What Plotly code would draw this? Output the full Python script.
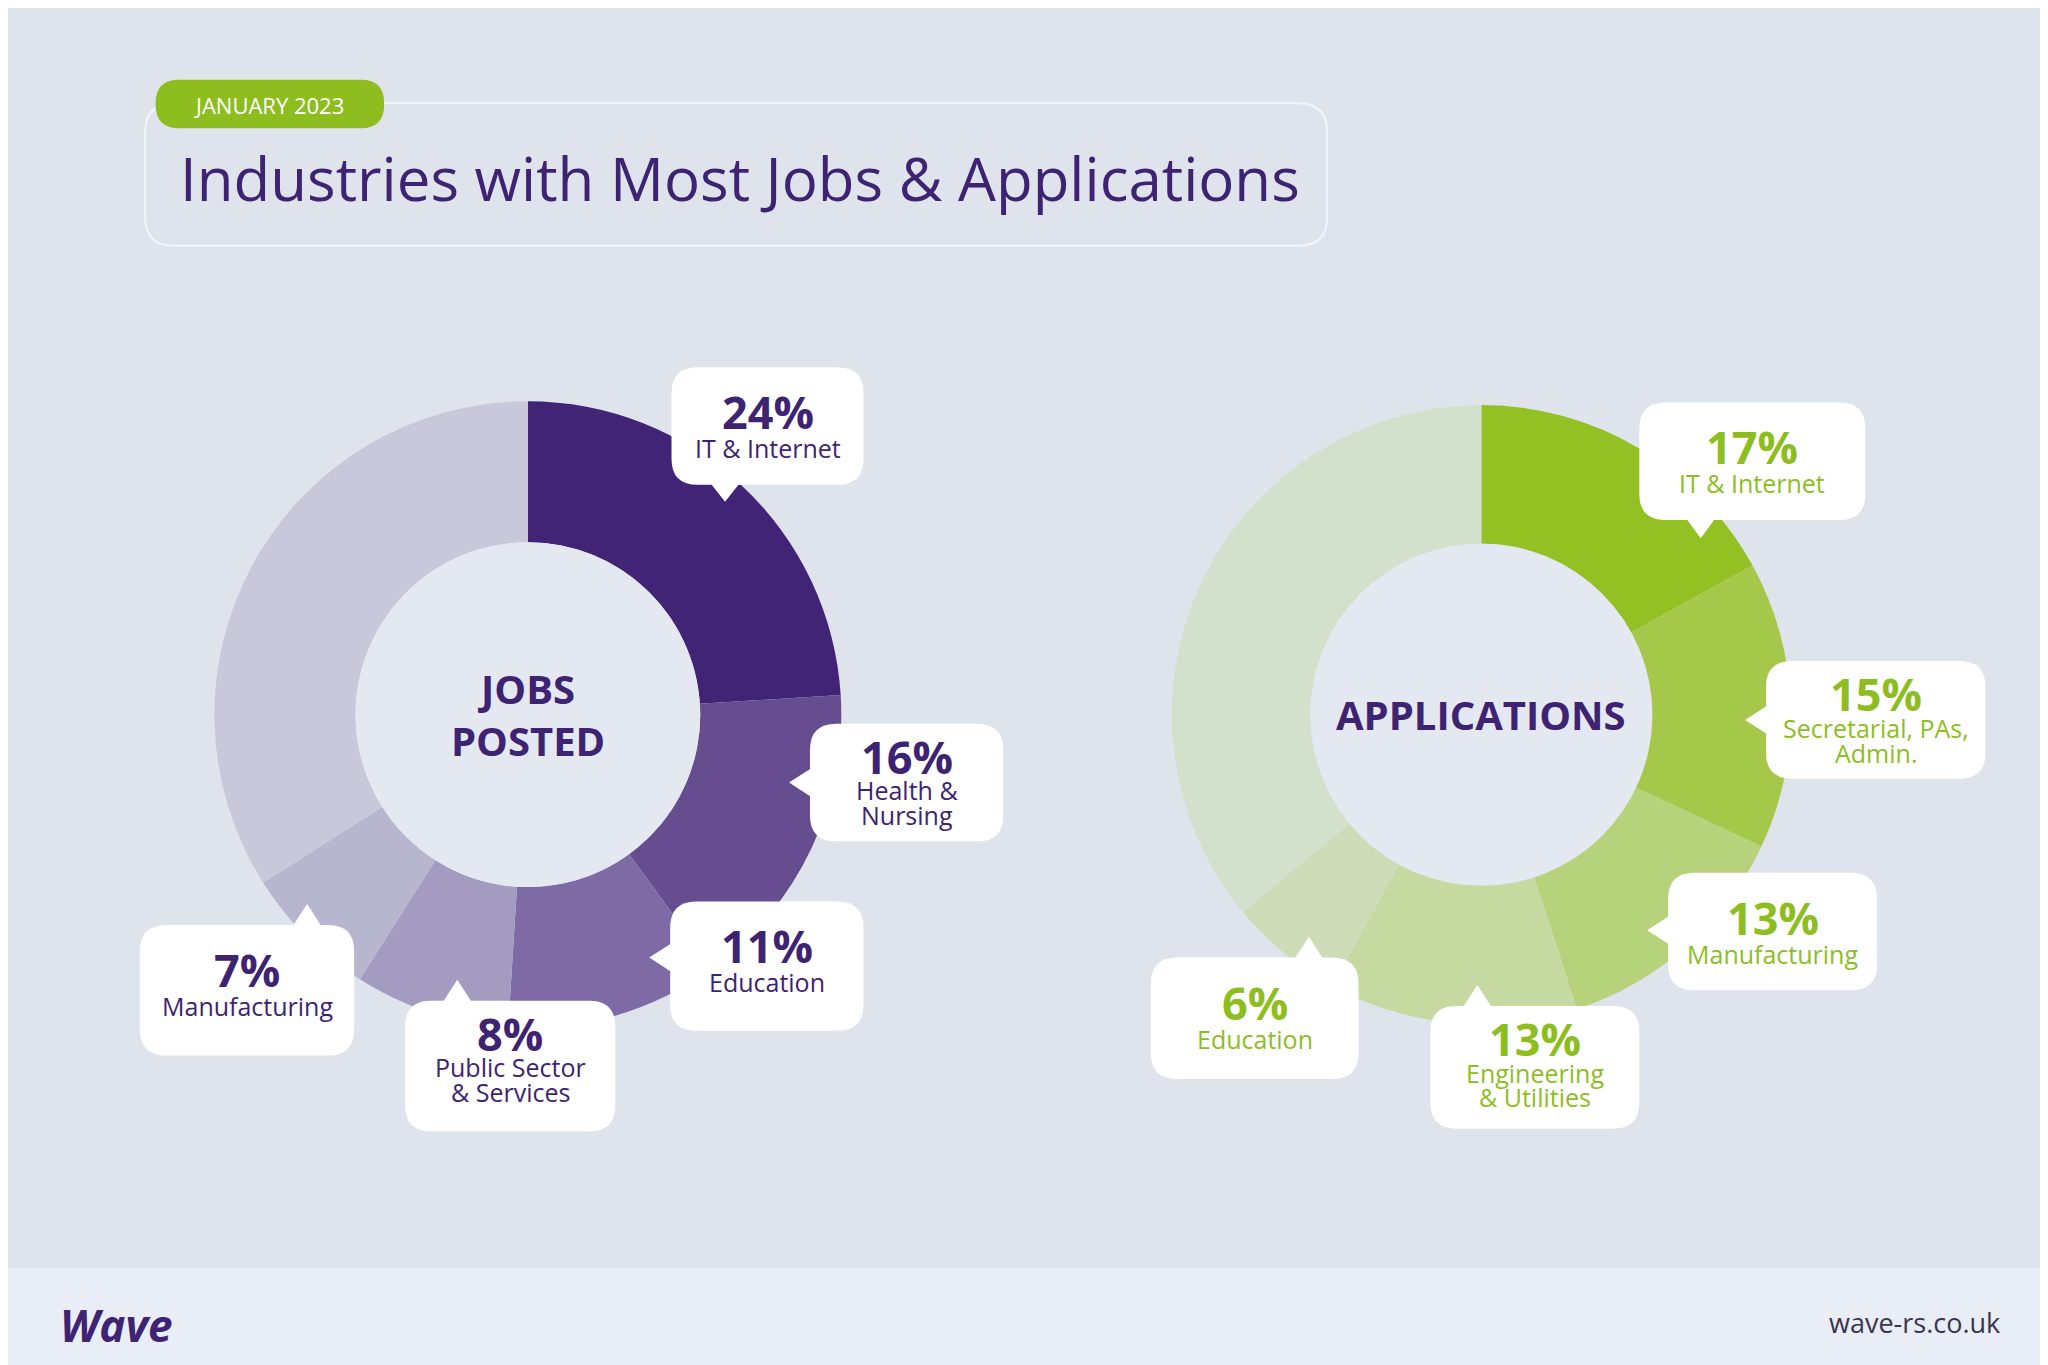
import plotly.graph_objects as go

W, H = 2048, 1365

jobs_labels = ["IT & Internet", "Health & Nursing", "Education", "Public Sector & Services", "Manufacturing", "Other"]
jobs_values = [24, 16, 11, 8, 7, 34]
jobs_colors = ["#412476", "#654d8f", "#7e6ba6", "#a39cc0", "#b8b5cf", "#c8c8da"]

app_labels = ["IT & Internet", "Secretarial, PAs, Admin.", "Manufacturing", "Engineering & Utilities", "Education", "Other"]
app_values = [17, 15, 13, 13, 6, 36]
app_colors = ["#93c022", "#a6c84a", "#b6d27a", "#c5d9a0", "#cddcb6", "#d3e0cb"]

PURPLE = "#3d2372"
GREEN = "#8dbd1f"
FONT = "Open Sans"

def px(x): return x / 1568.0
def py(y): return 1 - y / 1045.0

fig = go.Figure()

def donut(labels, values, colors, cx, cy, r):
    fig.add_trace(go.Pie(
        labels=labels, values=values, hole=0.55, sort=False, direction="clockwise",
        rotation=0, marker=dict(colors=colors, line=dict(width=0)),
        textinfo="none", hoverinfo="label+percent", showlegend=False,
        domain=dict(x=[px(cx - r), px(cx + r)], y=[py(cy + r), py(cy - r)])))

donut(jobs_labels, jobs_values, jobs_colors, 398, 541, 240)
donut(app_labels, app_values, app_colors, 1128, 541, 237)

shapes = []

def rrect(x0, y0, x1, y1, r, fill, line=None, lw=0):
    rx, ry = r / 1568.0, r / 1045.0
    X0, X1 = px(x0), px(x1)
    Y0, Y1 = py(y0), py(y1)
    path = (f"M{X0+rx},{Y0} L{X1-rx},{Y0} Q{X1},{Y0} {X1},{Y0-ry} "
            f"L{X1},{Y1+ry} Q{X1},{Y1} {X1-rx},{Y1} L{X0+rx},{Y1} "
            f"Q{X0},{Y1} {X0},{Y1+ry} L{X0},{Y0-ry} Q{X0},{Y0} {X0+rx},{Y0} Z")
    shapes.append(dict(type="path", path=path, xref="paper", yref="paper",
                       fillcolor=fill, line=dict(color=line or fill, width=lw)))

def tri(pts, fill="white"):
    path = "M" + " L".join(f"{px(x)},{py(y)}" for x, y in pts) + " Z"
    shapes.append(dict(type="path", path=path, xref="paper", yref="paper",
                       fillcolor=fill, line=dict(width=0)))

shapes.append(dict(type="rect", xref="paper", yref="paper", x0=0, x1=1, y0=0, y1=py(965),
                   fillcolor="#e9edf5", line=dict(width=0), layer="below"))
rrect(105, 73, 1010, 182, 22, "rgba(0,0,0,0)", line="#f3f5f9", lw=2)
rrect(113, 55, 288, 92, 18, "#8dbd1f")
for cx, cy, r in [(398, 541, 132), (1128, 541, 131)]:
    shapes.append(dict(type="circle", xref="paper", yref="paper",
                       x0=px(cx - r), x1=px(cx + r), y0=py(cy + r), y1=py(cy - r),
                       fillcolor="#e4e8f0", line=dict(width=0)))

callouts = [
    ((508, 275, 655, 365), [(538, 364), (560, 364), (549, 378)], "24%", ["IT & Internet"], PURPLE),
    ((614, 548, 762, 638), [(615, 582), (615, 604), (598, 593)], "16%", ["Health &", "Nursing"], PURPLE),
    ((507, 684, 655, 783), [(508, 716), (508, 738), (491, 727)], "11%", ["Education"], PURPLE),
    ((304, 760, 465, 860), [(333, 761), (355, 761), (344, 744)], "8%", ["Public Sector", "& Services"], PURPLE),
    ((101, 702, 265, 802), [(218, 703), (240, 703), (229, 686)], "7%", ["Manufacturing"], PURPLE),
    ((1249, 302, 1422, 392), [(1285, 391), (1307, 391), (1296, 406)], "17%", ["IT & Internet"], GREEN),
    ((1346, 500, 1514, 590), [(1347, 534), (1347, 556), (1330, 545)], "15%", ["Secretarial, PAs,", "Admin."], GREEN),
    ((1271, 662, 1431, 752), [(1272, 695), (1272, 717), (1255, 706)], "13%", ["Manufacturing"], GREEN),
    ((1089, 764, 1249, 858), [(1114, 765), (1136, 765), (1125, 748)], "13%", ["Engineering", "& Utilities"], GREEN),
    ((875, 727, 1034, 820), [(985, 728), (1007, 728), (996, 711)], "6%", ["Education"], GREEN),
]

ann = []
for (x0, y0, x1, y1), pts, pct, lines, col in callouts:
    rrect(x0, y0, x1, y1, 20, "white")
    tri(pts)
    cx = (x0 + x1) / 2
    if len(lines) == 1:
        pc, ly = y0 + 34, [y0 + 62]
    else:
        pc, ly = y0 + 25, [y0 + 51, y0 + 70]
    ann.append(dict(x=px(cx), y=py(pc), text=f"<b>{pct}</b>",
                    font=dict(family=FONT, size=45, color=col)))
    for t, yy in zip(lines, ly):
        ann.append(dict(x=px(cx), y=py(yy), text=t,
                        font=dict(family=FONT, size=25, color=col)))

ann += [
    dict(x=px(200), y=py(74), text="JANUARY 2023", font=dict(family=FONT, size=22, color="white")),
    dict(x=px(130), y=py(130), text="Industries with Most Jobs & Applications", xanchor="left",
         font=dict(family=FONT, size=60, color=PURPLE)),
    dict(x=px(398), y=py(541), text="<b>JOBS<br>POSTED</b>", font=dict(family=FONT, size=40, color=PURPLE)),
    dict(x=px(1128), y=py(541), text="<b>APPLICATIONS</b>", font=dict(family=FONT, size=40, color=PURPLE)),
    dict(x=px(38), y=py(1008), text="<b><i>Wave</i></b>", xanchor="left",
         font=dict(family=FONT, size=44, color=PURPLE)),
    dict(x=px(1527), y=py(1006), text="wave-rs.co.uk", xanchor="right",
         font=dict(family=FONT, size=27, color="#3a3550")),
]
for a in ann:
    a.setdefault("xref", "paper"); a.setdefault("yref", "paper"); a.setdefault("showarrow", False)
    a.setdefault("xanchor", "center"); a.setdefault("yanchor", "middle"); a.setdefault("align", "center")

fig.update_layout(width=W, height=H, margin=dict(l=0, r=0, t=0, b=0),
                  paper_bgcolor="#dfe4ec", plot_bgcolor="#dfe4ec",
                  shapes=shapes, annotations=ann)
fig.write_html("out.html")
